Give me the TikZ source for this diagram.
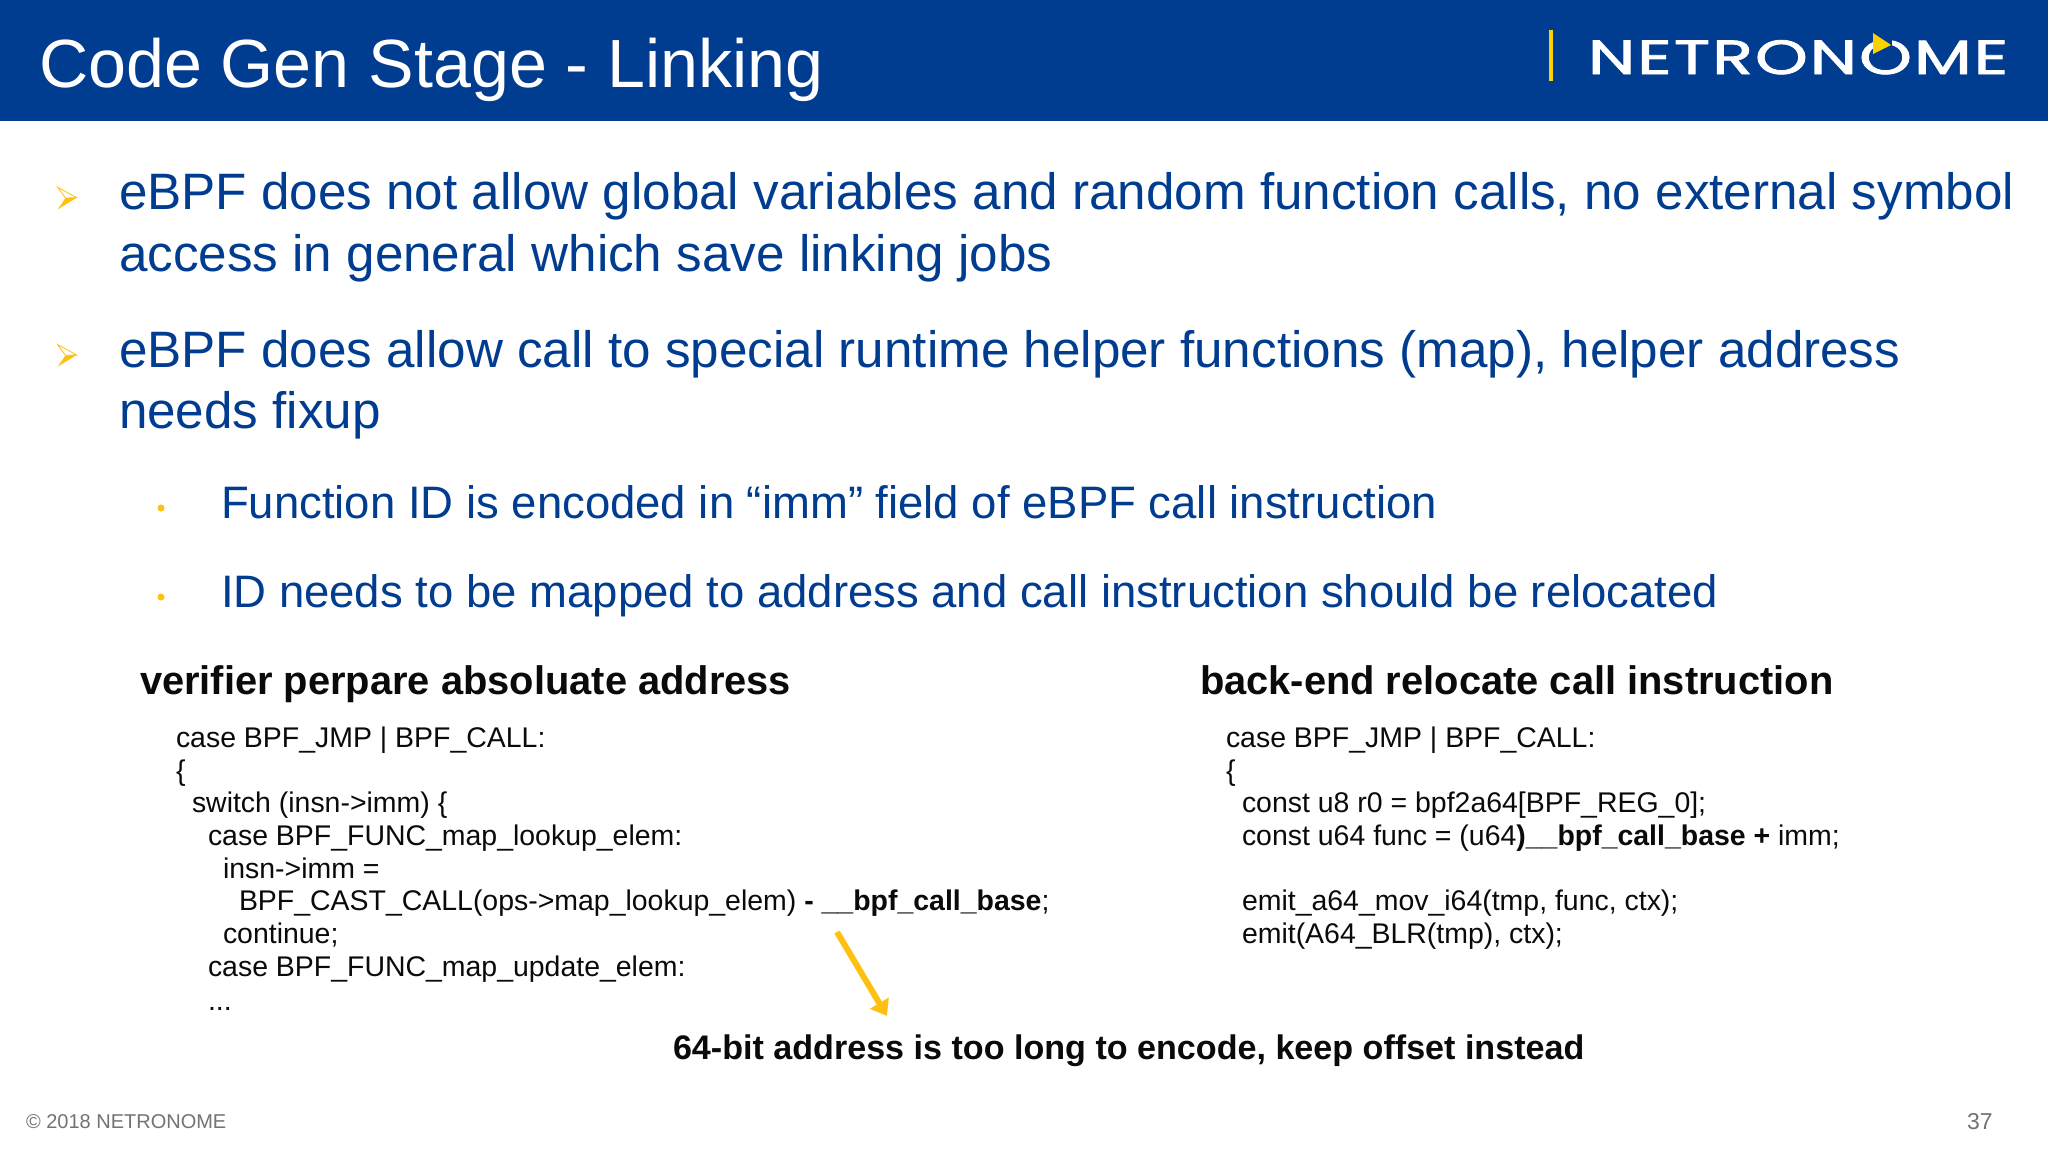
\documentclass[tikz,border=0pt]{standalone}
\usepackage{fontspec}
\setmainfont{Liberation Sans}
\newfontfamily\logofont[LetterSpace=3,FakeBold=1.6]{Poppins}
\definecolor{navy}{RGB}{0,60,143}
\definecolor{gold}{RGB}{255,192,15}
\definecolor{logogold}{RGB}{250,210,0}
\definecolor{codeink}{RGB}{10,10,10}
\newcommand{\fsz}[1]{\fontsize{#1}{#1}\selectfont}
\tikzset{
  every node/.style={inner sep=0pt,outer sep=0pt,anchor=base west},
  titletext/.style={text=white,font=\fsz{68.2}},
  bodytext/.style={text=navy,font=\fsz{51.2}},
  subtext/.style={text=navy,font=\fsz{45.5}},
  headtext/.style={text=codeink,font=\fsz{39.85}\bfseries},
  codetext/.style={text=codeink,font=\fsz{28.45}},
  foottext/.style={text=black!55,font=\fsz{20}},
  subdot/.style={fill=gold,circle,minimum size=7pt,anchor=center},
  pointer/.style={draw=gold,line width=6pt,-{Triangle[length=15pt,width=21pt]}}
}
\usetikzlibrary{arrows.meta}
\newcommand{\arrowbullet}[1]{%
  \begin{scope}[shift={(0,#1)}]
    \fill[gold] (57.7,209.3) -- (76.7,197.7) -- (65.5,198) -- cycle;
    \filldraw[draw=gold,fill=white,line width=.8pt] (57.7,187.3) -- (76.7,197.7) -- (65.5,198) -- cycle;
  \end{scope}}
\begin{document}
\begin{tikzpicture}[x=1pt,y=-1pt]
\useasboundingbox (0,0) rectangle (2048,1152);
\fill[white] (0,0) rectangle (2048,1152);
\fill[navy] (0,0) rectangle (2048,120.5);
\node[titletext] (title) at (39,87) {Code Gen Stage - Linking};
% logo
\fill[logogold] (1549,30) rectangle (1553,81);
\node[text=white,font=\logofont\fsz{48},xscale=1.4] (logo) at (1588,74) {NETRONOME};
\fill[navy] (1873,36) rectangle (1892,58);
\fill[logogold] (1873,33) -- (1891,45) -- (1873,54) -- cycle;
% bullets
\arrowbullet{0}
\arrowbullet{157.3}
\node[bodytext] (b1a) at (119,209.5) {eBPF does not allow global variables and random function calls, no external symbol};
\node[bodytext] (b1b) at (119,271) {access in general which save linking jobs};
\node[bodytext] (b2a) at (119,367) {eBPF does allow call to special runtime helper functions (map), helper address};
\node[bodytext] (b2b) at (119,428) {needs fixup};
\node[subdot] (d1) at (161,508) {};
\node[subdot] (d2) at (161,597) {};
\node[subtext] (s1) at (221,518.5) {Function ID is encoded in “imm” field of eBPF call instruction};
\node[subtext] (s2) at (221,607.5) {ID needs to be mapped to address and call instruction should be relocated};
% headings
\node[headtext] (hl) at (140,694) {verifier perpare absoluate address};
\node[headtext] (hr) at (1200,694) {back-end relocate call instruction};
% left code
\node[codetext] (l1) at (176,747) {case BPF\_JMP | BPF\_CALL:};
\node[codetext] (l2) at (176,780) {\{};
\node[codetext] (l3) at (192,812) {switch (insn->imm) \{};
\node[codetext] (l4) at (208,845) {case BPF\_FUNC\_map\_lookup\_elem:};
\node[codetext] (l5) at (223,878) {insn->imm =};
\node[codetext] (l6) at (239,910) {BPF\_CAST\_CALL(ops->map\_lookup\_elem) \textbf{- \_\_bpf\_call\_base};};
\node[codetext] (l7) at (223,943) {continue;};
\node[codetext] (l8) at (208,976) {case BPF\_FUNC\_map\_update\_elem:};
\node[codetext] (l9) at (208,1010) {...};
% right code
\node[codetext] (r1) at (1226,747) {case BPF\_JMP | BPF\_CALL:};
\node[codetext] (r2) at (1226,780) {\{};
\node[codetext] (r3) at (1242,812) {const u8 r0 = bpf2a64[BPF\_REG\_0];};
\node[codetext] (r4) at (1242,845) {const u64 func = (u64\textbf{)\_\_bpf\_call\_base +} imm;};
\node[codetext] (r5) at (1242,910) {emit\_a64\_mov\_i64(tmp, func, ctx);};
\node[codetext] (r6) at (1242,943) {emit(A64\_BLR(tmp), ctx);};
% note and pointer
\node[text=codeink,font=\fsz{34.1}\bfseries] (note) at (673,1059) {64-bit address is too long to encode, keep offset instead};
\coordinate (ptrfrom) at (837,932);
\coordinate (ptrto) at (887,1016);
\draw[pointer] (ptrfrom) -- (ptrto);
% footer
\node[foottext] (copy) at (26,1128) {© 2018 NETRONOME};
\node[foottext,font=\fsz{23}] (page) at (1967,1129) {37};
\end{tikzpicture}
\end{document}
